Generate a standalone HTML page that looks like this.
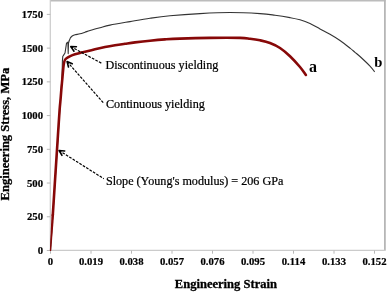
<!DOCTYPE html>
<html><head><meta charset="utf-8"><style>
html,body{margin:0;padding:0;background:#fff;width:387px;height:292px;overflow:hidden}
svg{display:block}
.dash{stroke:#000;stroke-width:1.2;stroke-dasharray:2.7 1.3;fill:none}
.ah{stroke:#000;stroke-width:1.6;fill:none;stroke-linejoin:round;stroke-linecap:round}
</style></head><body>
<svg width="387" height="292" viewBox="0 0 387 292"><rect x="0" y="0" width="387" height="292" fill="#fff"/><line x1="50" y1="0.7" x2="385.5" y2="0.7" stroke="#bcbcbc" stroke-width="1.5"/><line x1="384.9" y1="0" x2="384.9" y2="250.5" stroke="#b6b6b6" stroke-width="1.8"/><line x1="50.3" y1="0" x2="50.3" y2="251" stroke="#cbcbcb" stroke-width="1.2"/><line x1="50" y1="250.3" x2="385.5" y2="250.3" stroke="#cbcbcb" stroke-width="1.2"/><line x1="46.8" y1="250.50" x2="50.4" y2="250.50" stroke="#b8b8b8" stroke-width="1"/><line x1="46.8" y1="216.77" x2="50.4" y2="216.77" stroke="#b8b8b8" stroke-width="1"/><line x1="46.8" y1="183.04" x2="50.4" y2="183.04" stroke="#b8b8b8" stroke-width="1"/><line x1="46.8" y1="149.31" x2="50.4" y2="149.31" stroke="#b8b8b8" stroke-width="1"/><line x1="46.8" y1="115.58" x2="50.4" y2="115.58" stroke="#b8b8b8" stroke-width="1"/><line x1="46.8" y1="81.85" x2="50.4" y2="81.85" stroke="#b8b8b8" stroke-width="1"/><line x1="46.8" y1="48.12" x2="50.4" y2="48.12" stroke="#b8b8b8" stroke-width="1"/><line x1="46.8" y1="14.39" x2="50.4" y2="14.39" stroke="#b8b8b8" stroke-width="1"/><line x1="50.50" y1="250.5" x2="50.50" y2="253.7" stroke="#b8b8b8" stroke-width="1"/><line x1="91.00" y1="250.5" x2="91.00" y2="253.7" stroke="#b8b8b8" stroke-width="1"/><line x1="131.50" y1="250.5" x2="131.50" y2="253.7" stroke="#b8b8b8" stroke-width="1"/><line x1="172.00" y1="250.5" x2="172.00" y2="253.7" stroke="#b8b8b8" stroke-width="1"/><line x1="212.50" y1="250.5" x2="212.50" y2="253.7" stroke="#b8b8b8" stroke-width="1"/><line x1="253.00" y1="250.5" x2="253.00" y2="253.7" stroke="#b8b8b8" stroke-width="1"/><line x1="293.50" y1="250.5" x2="293.50" y2="253.7" stroke="#b8b8b8" stroke-width="1"/><line x1="334.00" y1="250.5" x2="334.00" y2="253.7" stroke="#b8b8b8" stroke-width="1"/><line x1="374.50" y1="250.5" x2="374.50" y2="253.7" stroke="#b8b8b8" stroke-width="1"/><g font-family="Liberation Serif, serif" font-weight="bold" font-size="10.7" fill="#000" stroke="#000" stroke-width="0.2"><text x="43" y="254.00" text-anchor="end">0</text><text x="43" y="220.27" text-anchor="end">250</text><text x="43" y="186.54" text-anchor="end">500</text><text x="43" y="152.81" text-anchor="end">750</text><text x="43" y="119.08" text-anchor="end">1000</text><text x="43" y="85.35" text-anchor="end">1250</text><text x="43" y="51.62" text-anchor="end">1500</text><text x="43" y="17.89" text-anchor="end">1750</text><text x="50.50" y="265.4" text-anchor="middle">0</text><text x="91.00" y="265.4" text-anchor="middle">0.019</text><text x="131.50" y="265.4" text-anchor="middle">0.038</text><text x="172.00" y="265.4" text-anchor="middle">0.057</text><text x="212.50" y="265.4" text-anchor="middle">0.076</text><text x="253.00" y="265.4" text-anchor="middle">0.095</text><text x="293.50" y="265.4" text-anchor="middle">0.114</text><text x="334.00" y="265.4" text-anchor="middle">0.133</text><text x="374.50" y="265.4" text-anchor="middle">0.152</text></g><g font-family="Liberation Serif, serif" font-weight="bold" font-size="12.55" fill="#000" stroke="#000" stroke-width="0.3"><text x="225.9" y="287.8" text-anchor="middle">Engineering Strain</text><text transform="translate(8.6,134.1) rotate(-90)" x="0" y="0" text-anchor="middle">Engineering Stress, MPa</text></g><path d="M50.5,250.5 L62.1,75 L62.4,61 L62.8,56.3 L63.3,55.6 L65.0,53.0 L66.5,43.3 L67.9,42.2 L68.2,53.6 L68.5,43.0 L69.3,40.5 L69.0,41.2 L70.5,37.6 L70.50,37.60 C70.85,37.30 71.85,36.27 72.60,35.80 C73.35,35.33 73.77,35.13 75.00,34.80 C76.23,34.47 78.33,34.23 80.00,33.80 C81.67,33.37 83.33,32.75 85.00,32.20 C86.67,31.65 87.50,31.25 90.00,30.50 C92.50,29.75 96.67,28.60 100.00,27.70 C103.33,26.80 105.00,26.12 110.00,25.10 C115.00,24.08 123.33,22.73 130.00,21.60 C136.67,20.47 143.33,19.27 150.00,18.30 C156.67,17.33 161.67,16.58 170.00,15.80 C178.33,15.02 190.00,14.15 200.00,13.60 C210.00,13.05 220.00,12.50 230.00,12.50 C240.00,12.50 252.50,13.15 260.00,13.60 C267.50,14.05 270.00,14.53 275.00,15.20 C280.00,15.87 285.83,16.83 290.00,17.60 C294.17,18.37 296.67,18.82 300.00,19.80 C303.33,20.78 306.67,21.98 310.00,23.50 C313.33,25.02 316.67,27.10 320.00,28.90 C323.33,30.70 326.67,32.37 330.00,34.30 C333.33,36.23 336.67,38.20 340.00,40.50 C343.33,42.80 347.50,46.13 350.00,48.10 C352.50,50.07 353.33,50.90 355.00,52.30 C356.67,53.70 357.50,54.20 360.00,56.50 C362.50,58.80 367.57,63.55 370.00,66.10 C372.43,68.65 373.83,70.85 374.60,71.80" fill="none" stroke="#333" stroke-width="1.1" stroke-linejoin="round"/><polygon points="49.85,250.9 51.15,250.9 54.1,214.6 51.5,214.6" fill="#870808"/><path d="M52.79,215 L54.4,190 L57.95,135 L57.95,135.00 C58.23,130.83 59.18,115.83 59.60,110.00 C60.02,104.17 60.22,103.33 60.50,100.00 C60.78,96.67 60.97,93.83 61.30,90.00 C61.63,86.17 62.17,80.67 62.50,77.00 C62.83,73.33 63.07,70.25 63.30,68.00 C63.53,65.75 63.63,64.83 63.90,63.50 C64.17,62.17 64.40,60.92 64.90,60.00 C65.40,59.08 66.00,58.65 66.90,58.00 C67.80,57.35 68.95,56.72 70.30,56.10 C71.65,55.48 73.38,54.83 75.00,54.30 C76.62,53.77 78.33,53.33 80.00,52.90 C81.67,52.47 82.50,52.30 85.00,51.70 C87.50,51.10 91.67,50.07 95.00,49.30 C98.33,48.53 101.67,47.77 105.00,47.10 C108.33,46.43 111.67,45.85 115.00,45.30 C118.33,44.75 121.67,44.28 125.00,43.80 C128.33,43.32 130.83,42.92 135.00,42.40 C139.17,41.88 145.00,41.20 150.00,40.70 C155.00,40.20 160.00,39.75 165.00,39.40 C170.00,39.05 172.50,38.85 180.00,38.60 C187.50,38.35 200.00,38.02 210.00,37.90 C220.00,37.78 233.33,37.77 240.00,37.90 C246.67,38.03 246.67,38.30 250.00,38.70 C253.33,39.10 256.67,39.58 260.00,40.30 C263.33,41.02 266.67,41.72 270.00,43.00 C273.33,44.28 276.67,45.80 280.00,48.00 C283.33,50.20 286.67,53.03 290.00,56.20 C293.33,59.37 297.35,63.87 300.00,67.00 C302.65,70.13 304.92,73.67 305.90,75.00" fill="none" stroke="#870808" stroke-width="2.6" stroke-linejoin="round" stroke-linecap="round"/><g><line x1="70.80" y1="46.60" x2="101.80" y2="63.40" class="dash"/><polyline points="76.40,46.74 70.80,46.60 73.98,51.21" class="ah"/><line x1="67.10" y1="61.60" x2="103.40" y2="102.90" class="dash"/><polyline points="72.30,63.67 67.10,61.60 68.48,67.03" class="ah"/><line x1="59.10" y1="150.50" x2="103.80" y2="178.70" class="dash"/><polyline points="64.68,151.01 59.10,150.50 61.96,155.31" class="ah"/></g><g font-family="Liberation Serif, serif" font-size="12.15" fill="#000" stroke="#000" stroke-width="0.22"><text x="105.4" y="69.0">Discontinuous yielding</text><text x="106.0" y="108.4">Continuous yielding</text><text x="105.9" y="184.8">Slope (Young's modulus) = 206 GPa</text></g><g font-family="Liberation Serif, serif" font-weight="bold" font-size="16" fill="#000"><text x="308.9" y="71.8">a</text><text x="374.3" y="67.3" font-size="14.6">b</text></g></svg>
</body></html>
